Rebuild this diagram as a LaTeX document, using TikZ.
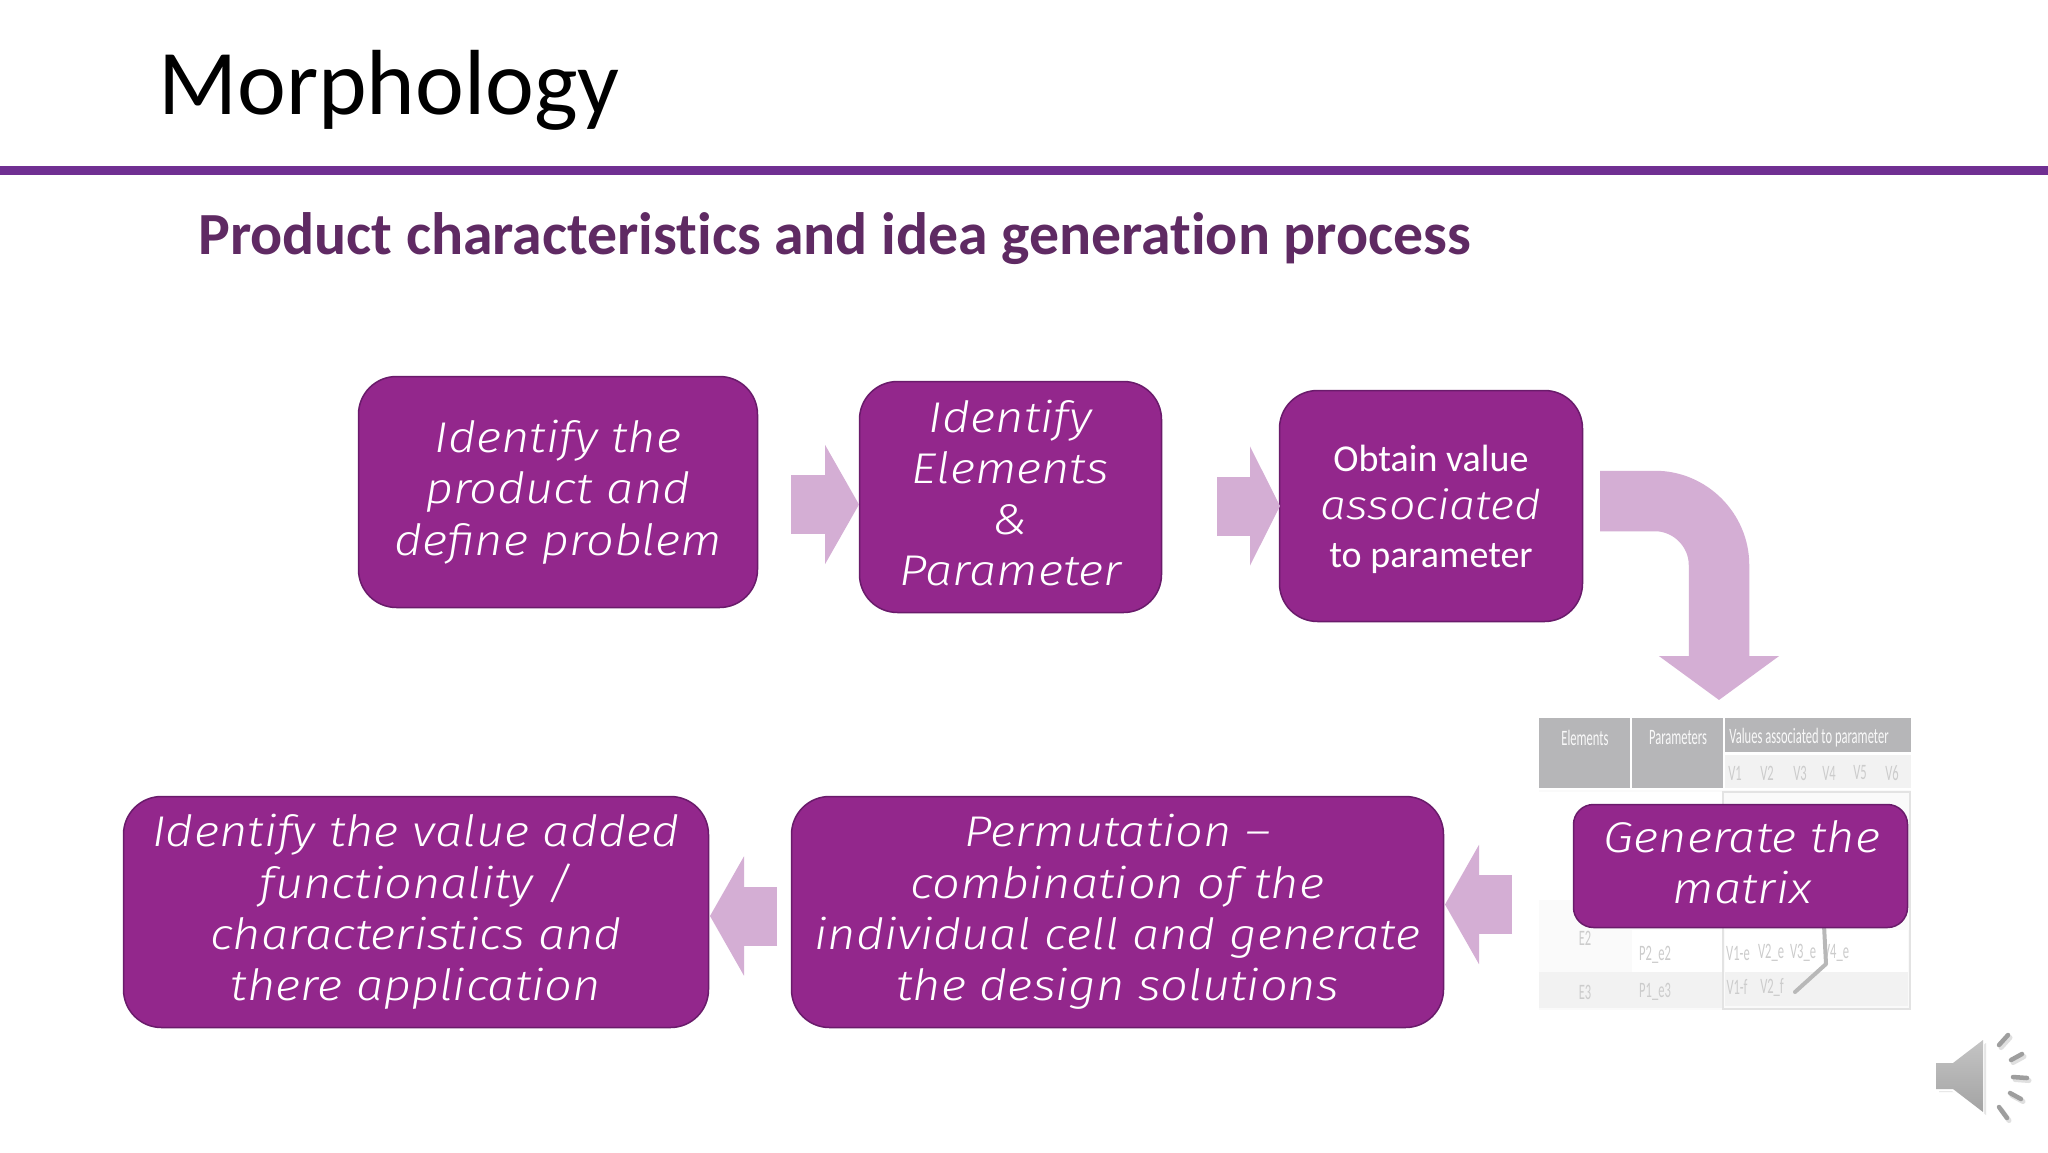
\documentclass[tikz,border=0pt]{standalone}
\usepackage{fontspec}
\usetikzlibrary{arrows.meta}
\setmainfont{Carlito}[Ligatures={NoCommon}]
\newfontfamily\hw{Fira Sans Light Italic}[FakeStretch=1.135]
\newfontfamily\narrow{Carlito}[FakeStretch=0.57]
\definecolor{boxfill}{HTML}{93278C}
\definecolor{boxline}{HTML}{6A1B6B}
\definecolor{arrowfill}{HTML}{D4AED4}
\definecolor{rulecol}{HTML}{702F92}
\definecolor{subcol}{HTML}{5F2A63}
\definecolor{headgray}{HTML}{B6B6B8}
\tikzset{
  bx/.style={draw=boxline,line width=1.5pt,fill=boxfill,rounded corners=38pt,inner sep=0pt},
  lbl/.style={text=white,align=center,inner sep=0pt,font=\hw\fontsize{43}{51.3}\selectfont},
  flow/.style={draw=arrowfill,line width=59pt,-{Triangle[length=34pt,width=118pt,sep=0pt]},line cap=butt},
  mhead/.style={text=white!92!headgray,font=\narrow\fontsize{22}{22}\selectfont,inner sep=0pt},
  mcell/.style={text=black!20,font=\narrow\fontsize{22}{22}\selectfont,inner sep=0pt},
  sound/.style={draw=black!38,line width=4.5pt,line cap=round},
  soundsh/.style={draw=black!12,line width=5pt,line cap=round}
}
\begin{document}
\begin{tikzpicture}[x=1pt,y=-1pt]
\useasboundingbox (0,0) rectangle (2048,1152);
\fill[white] (0,0) rectangle (2048,1152);
% title
\node[anchor=base west,inner sep=0pt,font=\fontsize{92.5}{92.5}\selectfont] (title) at (158,114) {Morphology};
\fill[rulecol] (0,165.5) rectangle (2048,174.5);
\node[anchor=base west,inner sep=0pt,text=subcol,font=\bfseries\fontsize{59.8}{59.8}\selectfont] (sub) at (198,254) {Product characteristics and idea generation process};
% matrix image
\fill[black!2] (1539,790) rectangle (1911,1010);
\fill[white] (1539,792) rectangle (1722,900);
\fill[white] (1632,930) rectangle (1722,972);
\fill[white] (1725,930) rectangle (1908,972);
\fill[black!5] (1539,972) rectangle (1722,1008);
\fill[black!5] (1725,972) rectangle (1908,1006);
\fill[headgray] (1539,718) rectangle (1630,788);
\fill[headgray] (1632,718) rectangle (1723,788);
\fill[headgray] (1725,718) rectangle (1911,752);
\fill[black!5] (1725,755) rectangle (1911,788);
\draw[black!11,line width=2pt] (1723,792) rectangle (1910,1009);
\node[mhead] (mh1) at (1585,738) {Elements};
\node[mhead] (mh2) at (1678,738) {Parameters};
\node[mhead] (mh3) at (1809,738) {Values associated to parameter};
\foreach \n/\x in {V1/1735,V2/1767,V3/1800,V4/1829,V5/1860,V6/1892}
  \node[mcell] (m\n) at (\x,773) {\n};
\node[mcell] (e2) at (1585,938) {E2};
\node[mcell] (p2) at (1655,955) {P2\_e2};
\foreach \n/\t/\x in {a/V1-e/1738,b/V2\_e/1771,c/V3\_e/1803,d/V4\_e/1836}
  \node[mcell] (r\n) at (\x,953) {\t};
\node[mcell] (e3) at (1585,992) {E3};
\node[mcell] (p3) at (1655,992) {P1\_e3};
\node[mcell] (s1) at (1737,987) {V1-f};
\node[mcell] (s2) at (1772,987) {V2\_f};
\coordinate (ln1) at (1824,925);
\coordinate (ln2) at (1826,964);
\coordinate (ln3) at (1795,992);
\draw[black!28,line width=4pt,line cap=round,line join=round] (ln1) -- (ln2) -- (ln3);
% boxes
\node[bx,minimum width=399pt,minimum height=231pt] (b1) at (558,492) {};
\node[lbl] at (558,492) {Identify the\\product and\\define problem};
\node[bx,minimum width=302pt,minimum height=231pt] (b2) at (1010.5,497) {};
\node[lbl] at (1010.5,493) {Identify\\Elements\\\&\\Parameter};
\node[bx,minimum width=303pt,minimum height=231pt] (b3) at (1431,506) {};
\node[lbl,font=\fontsize{38}{45}\selectfont] at (1431,509) {Obtain value\\[3pt]{\hw\fontsize{41}{45}\selectfont associated}\\[3pt]to parameter};
\node[bx,rounded corners=20pt,minimum width=334pt,minimum height=123pt] (b4) at (1740.5,866) {};
\node[lbl] at (1742,862) {Generate the\\matrix};
\node[bx,minimum width=652pt,minimum height=231pt] (b5) at (1117.5,912) {};
\node[lbl] at (1117.5,912) {Permutation –\\combination of the\\individual cell and generate\\the design solutions};
\node[bx,minimum width=585pt,minimum height=231pt] (b6) at (416,912) {};
\node[lbl] at (416,912) {Identify the value added\\functionality /\\characteristics and\\there application};
% connectors
\coordinate (a1s) at (791,504.5);
\coordinate (a1e) at (859,504.5);
\coordinate (a2s) at (1217,506);
\coordinate (a2e) at (1280,506);
\coordinate (a3s) at (1600,501);
\coordinate (a3e) at (1719,700);
\coordinate (a4s) at (1512,904.5);
\coordinate (a4e) at (1445,904.5);
\coordinate (a5s) at (777,916);
\coordinate (a5e) at (710,916);
\draw[flow] (a1s) -- (a1e);
\draw[flow,-{Triangle[length=30pt,width=118pt,sep=0pt]}] (a2s) -- (a2e);
\draw[flow,line width=60.5pt,-{Triangle[length=44pt,width=118pt,sep=0pt]}] (a3s) -- (1655,501) .. controls (1690,501) and (1719,530) .. (1719,565) -- (a3e);
\draw[flow] (a4s) -- (a4e);
\draw[flow] (a5s) -- (a5e);
% speaker icon
\fill[black!10] (1939,1066) -- (1956,1066) -- (1986,1043) -- (1986,1115) -- (1956,1092) -- (1939,1092) -- cycle;
\fill[white] (1936,1063) ++(-2,-2) -- (1952,1061) -- (1984,1037) -- (1984,1114) -- (1952,1091) -- (1934,1091) -- cycle;
\shade[top color=black!23,bottom color=black!36] (1936,1063) -- (1953,1063) -- (1983,1040) -- (1983,1112) -- (1953,1089) -- (1936,1089) -- cycle;
\foreach \ax/\ay/\bx/\by in {1999/1045/2008/1035,2011/1060/2022/1054,2013/1077/2027/1078,2010/1093/2021/1099,1999/1107/2007/1118}{
  \draw[soundsh] (\ax+2,\ay+2.5) -- (\bx+2,\by+2.5);
  \draw[sound] (\ax,\ay) -- (\bx,\by);
}
\end{tikzpicture}
\end{document}
